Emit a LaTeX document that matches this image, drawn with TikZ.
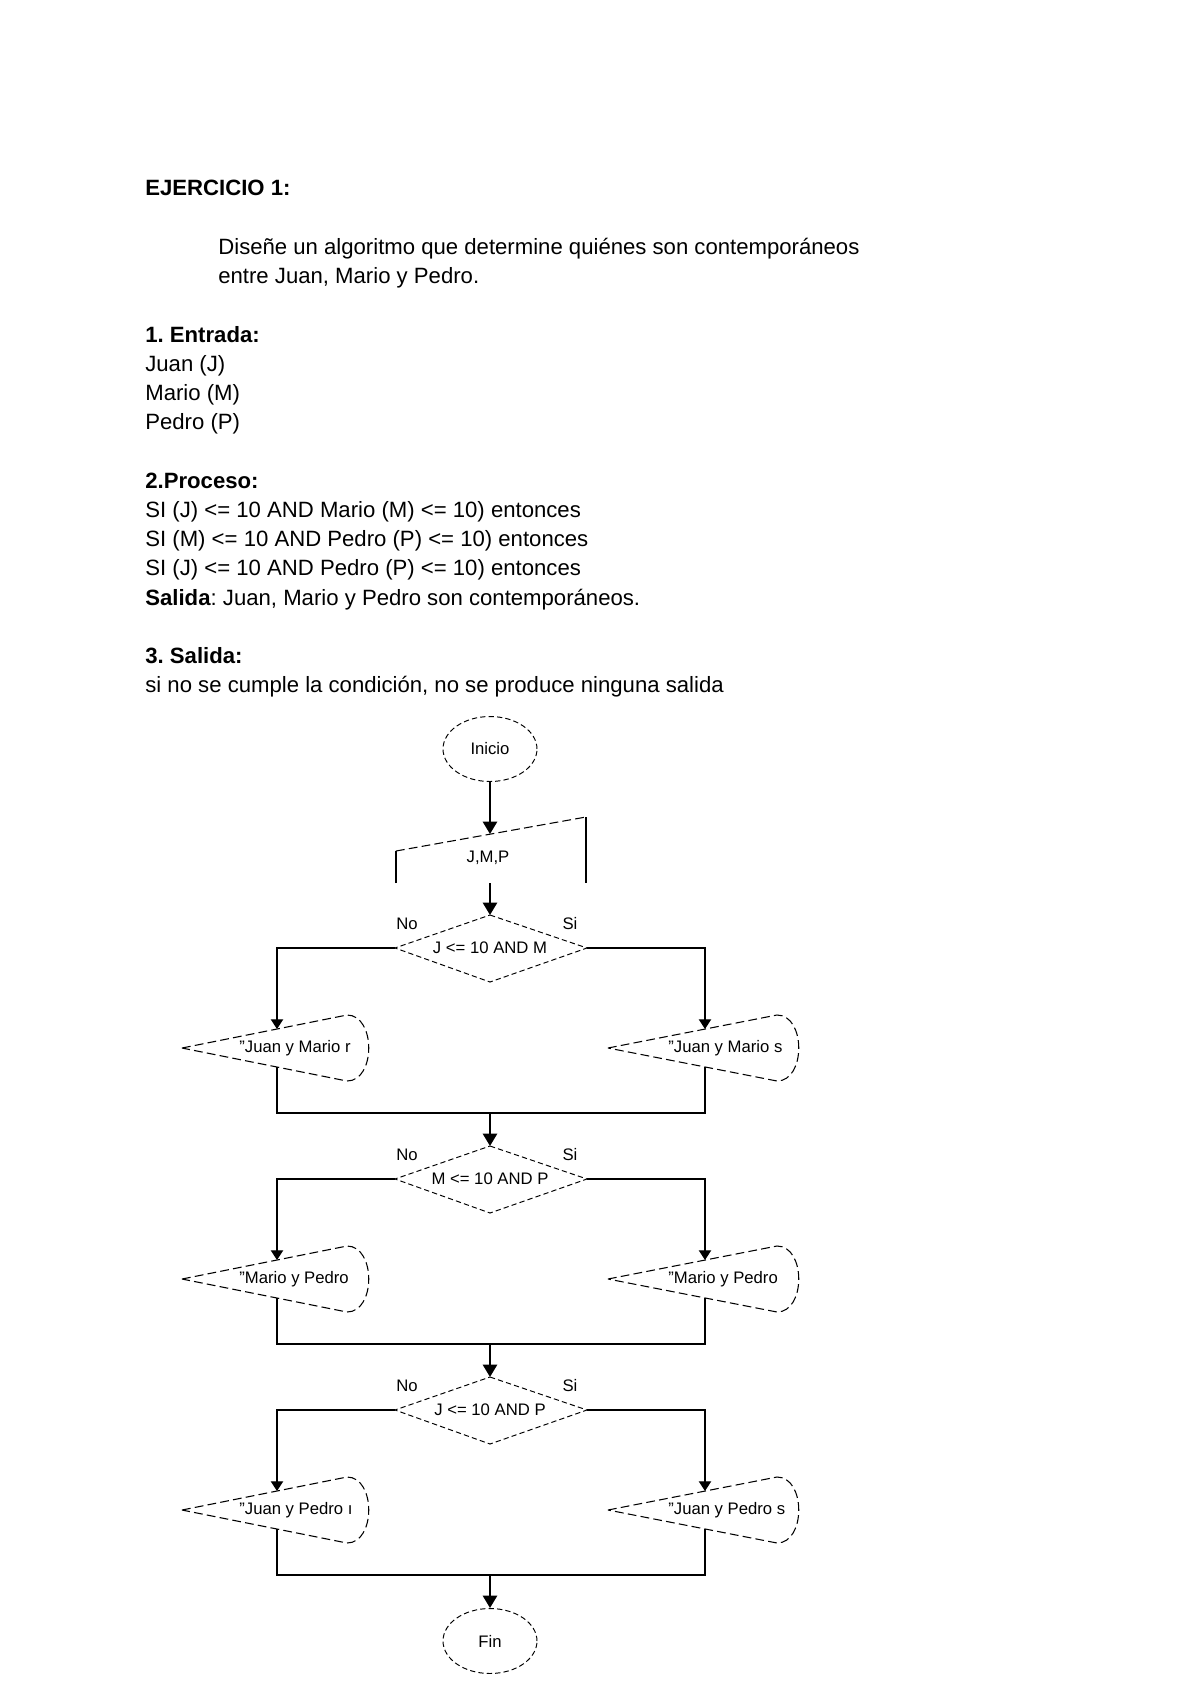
\documentclass[tikz,border=0pt]{standalone}
\usepackage{fontspec}
\setmainfont{Liberation Sans}
\usetikzlibrary{arrows.meta,shapes.geometric}
\frenchspacing
\begin{document}
\frenchspacing
\begin{tikzpicture}[x=0.02cm,y=-0.02cm,
  body/.style={anchor=base west,inner sep=0pt,font=\fontsize{12.6}{15}\selectfont},
  small/.style={inner sep=0pt,font=\fontsize{9.5}{11}\selectfont},
  dsh/.style={dash pattern=on 3pt off 1.8pt,line width=0.55pt},
  longdsh/.style={dash pattern=on 5pt off 2.4pt,line width=0.6pt},
  term/.style={draw,ellipse,dsh,minimum width=1.88cm,minimum height=1.3cm,inner sep=0pt,font=\fontsize{9.5}{11}\selectfont},
  thinline/.style={line width=0.6pt},
  flow/.style={line width=1.3pt,-{Triangle[length=7pt,width=8pt]}},
  branch/.style={line width=0.6pt,-{Triangle[length=5.5pt,width=7pt]}}
]
\fill[white] (0,0) rectangle (1200,1698);
\useasboundingbox (0,0) rectangle (1200,1698);

% ---------- text ----------
\node[body] (t0) at (145,195) {\textbf{EJERCICIO 1:}};
\node[body] (t1) at (218,254) {Diseñe un algoritmo que determine quiénes son contemporáneos};
\node[body] (t2) at (218,283) {entre Juan, Mario y Pedro.};
\node[body] (t3) at (145,342) {\textbf{1. Entrada:}};
\node[body] (t4) at (145,371) {Juan (J)};
\node[body] (t5) at (145,400) {Mario (M)};
\node[body] (t6) at (145,429) {Pedro (P)};
\node[body] (t7) at (145,488) {\textbf{2.Proceso:}};
\node[body] (t8) at (145,517) {SI (J) <= 10 AND Mario (M) <= 10) entonces};
\node[body] (t9) at (145,546) {SI (M) <= 10 AND Pedro (P) <= 10) entonces};
\node[body] (t10) at (145,575) {SI (J) <= 10 AND Pedro (P) <= 10) entonces};
\node[body] (t11) at (145,605) {\textbf{Salida}: Juan, Mario y Pedro son contemporáneos.};
\node[body] (t12) at (145,663) {\textbf{3. Salida:}};
\node[body] (t13) at (145,692) {si no se cumple la condición, no se produce ninguna salida};

% ---------- flowchart ----------
\node[term] (ini) at (490,749) {Inicio};
\coordinate (inptop) at (490,834);
\coordinate (inpbot) at (490,883);
\draw[thinline] (396,883) -- (396,851);
\draw[longdsh] (396,851) -- (586,817);
\draw[thinline] (586,817) -- (586,883);
\node[small] (inp) at (488,858) {J,M,P};
\draw[flow] (ini.south) -- (inptop);

\foreach \i/\c/\dt/\lt/\rt in {1/948/J <= 10 AND M/"Juan y Mario r/"Juan y Mario s,
  2/1179/M <= 10 AND P/"Mario y Pedro/"Mario y Pedro,
  3/1410/J <= 10 AND P/"Juan y Pedro ı/"Juan y Pedro s}{
  \pgfmathsetmacro\e{\c+100}
  \coordinate (d\i-n) at (490,{\c-33});
  \coordinate (d\i-s) at (490,{\c+34});
  \coordinate (d\i-w) at (395,\c);
  \coordinate (d\i-e) at (587,\c);
  \draw[dsh] (d\i-n) -- (d\i-e) -- (d\i-s) -- (d\i-w) -- cycle;
  \node[small] (d\i) at (490,\c) {\dt};
  \node[small] (no\i) at (407,{\c-24}) {No};
  \node[small] (si\i) at (570,{\c-24}) {Si};
  % left display
  \draw[longdsh] (182,\e) -- (347,{\e-33}) .. controls (376,{\e-33}) and (376,{\e+33}) .. (347,{\e+33}) -- cycle;
  % right display
  \draw[longdsh] (608,\e) -- (777,{\e-33}) .. controls (806,{\e-33}) and (806,{\e+33}) .. (777,{\e+33}) -- cycle;
  \node[small,anchor=west] (L\i) at (239,\e) {\lt};
  \node[small,anchor=west] (R\i) at (668,\e) {\rt};
  \coordinate (L\i-t) at (277,{\e-19});
  \coordinate (L\i-b) at (277,{\e+19});
  \coordinate (R\i-t) at (705,{\e-19});
  \coordinate (R\i-b) at (705,{\e+19});
  \coordinate (BL\i) at (277,{\c+165});
  \coordinate (BR\i) at (705,{\c+165});
  \coordinate (B\i) at (490,{\c+165});
  \draw[branch] (d\i-w) -| (L\i-t);
  \draw[branch] (d\i-e) -| (R\i-t);
  \draw[thinline] (L\i-b) -- (BL\i) -- (BR\i) -- (R\i-b);
}

\node[term] (fin) at (490,1641) {Fin};
\draw[flow] (inpbot) -- (d1-n);
\draw[flow] (B1) -- (d2-n);
\draw[flow] (B2) -- (d3-n);
\draw[flow] (B3) -- (fin.north);
\end{tikzpicture}
\end{document}
